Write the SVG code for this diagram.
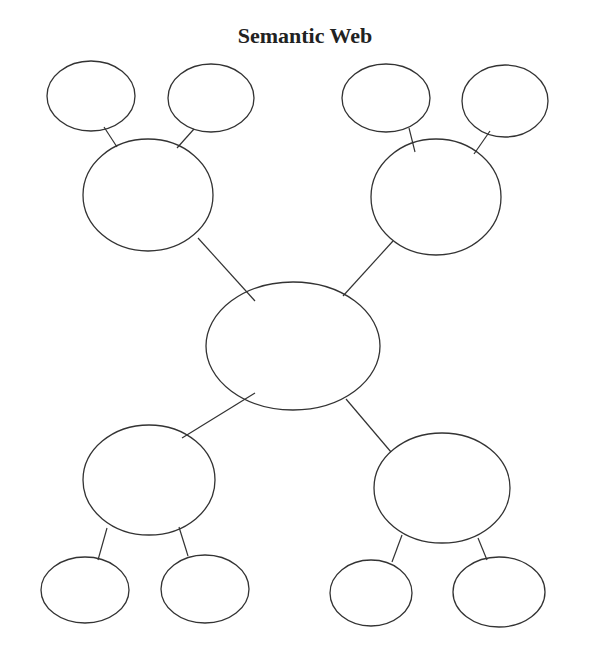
<svg xmlns="http://www.w3.org/2000/svg" width="611" height="658" viewBox="0 0 611 658">
<style>
ellipse{fill:none;stroke:#333;stroke-width:1.3}
line{stroke:#333;stroke-width:1.2}
text{font-family:"Liberation Serif",serif;font-size:22px;font-weight:600;fill:#222}
</style>
<rect width="611" height="658" fill="#fff"/>
<text x="305" y="43" text-anchor="middle">Semantic Web</text>
<g id="connectors">
<line x1="198" y1="238" x2="255" y2="301"/>
<line x1="393" y1="241" x2="343" y2="296"/>
<line x1="255" y1="393" x2="182" y2="438"/>
<line x1="346" y1="399" x2="391" y2="452"/>
<line x1="104" y1="127" x2="117" y2="147"/>
<line x1="194" y1="129" x2="177" y2="148"/>
<line x1="409" y1="128" x2="415" y2="152"/>
<line x1="490" y1="131" x2="474" y2="154"/>
<line x1="107" y1="528" x2="98" y2="560"/>
<line x1="179" y1="527" x2="188" y2="556"/>
<line x1="402" y1="535" x2="392" y2="562"/>
<line x1="478" y1="538" x2="487" y2="560"/>
</g>
<g id="center"><ellipse cx="293" cy="346" rx="87" ry="64"/></g>
<g id="tl"><ellipse cx="148" cy="195" rx="65" ry="56"/></g>
<g id="tr"><ellipse cx="436" cy="197" rx="65" ry="58"/></g>
<g id="bl"><ellipse cx="149" cy="480" rx="66" ry="55"/></g>
<g id="br"><ellipse cx="442" cy="488" rx="68" ry="55"/></g>
<g id="tl1"><ellipse cx="91" cy="96" rx="44" ry="35"/></g>
<g id="tl2"><ellipse cx="211" cy="98" rx="43" ry="34"/></g>
<g id="tr1"><ellipse cx="386" cy="98" rx="44" ry="34"/></g>
<g id="tr2"><ellipse cx="505" cy="101" rx="43" ry="36"/></g>
<g id="bl1"><ellipse cx="85" cy="590" rx="44" ry="33"/></g>
<g id="bl2"><ellipse cx="205" cy="589" rx="44" ry="34"/></g>
<g id="br1"><ellipse cx="371" cy="593" rx="41" ry="33"/></g>
<g id="br2"><ellipse cx="499" cy="592" rx="46" ry="35"/></g>
</svg>
